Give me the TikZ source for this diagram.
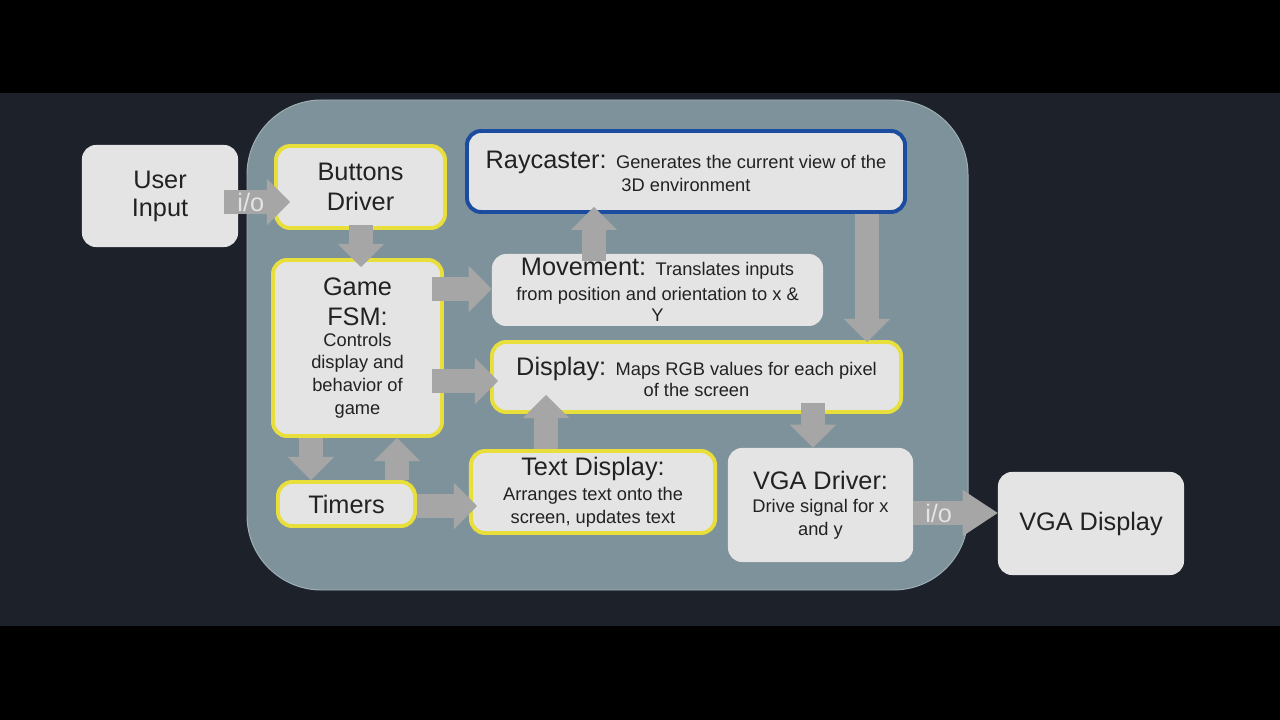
\documentclass[tikz,border=0pt]{standalone}
\usepackage{fontspec}
\setmainfont{Liberation Sans}
\usetikzlibrary{arrows.meta}
\definecolor{bandc}{RGB}{28,33,42}
\definecolor{fpgac}{RGB}{125,146,155}
\definecolor{fpgaedge}{RGB}{160,175,182}
\definecolor{boxc}{RGB}{228,228,228}
\definecolor{yelc}{RGB}{232,222,60}
\definecolor{bluc}{RGB}{28,76,160}
\definecolor{arrc}{RGB}{166,166,166}
\definecolor{txtc}{RGB}{34,34,34}
\newcommand{\ttl}{\fontsize{18}{21.5}\selectfont}
\newcommand{\dsc}{\fontsize{13}{16}\selectfont}
\tikzset{
	box/.style={fill=boxc, rounded corners=10pt, align=center, text=txtc, inner sep=0pt, font=\ttl},
	yelbox/.style={box, draw=yelc, line width=2.8pt},
	blubox/.style={box, draw=bluc, line width=2.8pt},
	blk/.style={draw=arrc, line width=17.5pt, -{Triangle[length=16.4pt, width=33pt, line width=0pt]}},
	iolbl/.style={text=boxc, font=\ttl, inner sep=0pt}
}
\begin{document}
\begin{tikzpicture}[x=0.025cm, y=-0.025cm]
			\useasboundingbox (0,0) rectangle (1280,720);
			\fill[black] (0,0) rectangle (1280,720);
			\fill[bandc] (0,93) rectangle (1280,626);
			\draw[fpgaedge, fill=fpgac, line width=0.7pt, rounded corners=53pt] (247,100) rectangle (968,590);

			\node[box, minimum width=111pt, minimum height=72.6pt] (user) at (160,196) {User\\[-1.5pt]Input};
			\node[yelbox, minimum width=120.2pt, minimum height=58.3pt] (btn) at (360.5,187) {Buttons\\Driver};
			\node[blubox, minimum width=311.5pt, minimum height=57.6pt] (ray) at (686,171.5)
				{Raycaster: \dsc Generates the current view of the\\[-5pt]\dsc 3D environment};
			\node[box, minimum width=235.4pt, minimum height=51.2pt] (mov) at (657.5,290)
				{Movement: \dsc Translates inputs\\[-4pt]\dsc from position and orientation to x \&\\[-6pt]\dsc Y};
			\node[yelbox, minimum width=120.2pt, minimum height=125.2pt] (fsm) at (357.5,348)
				{Game\\FSM:\\[-7pt]\dsc Controls\\[-5.3pt]\dsc display and\\[-5.3pt]\dsc behavior of\\[-5.3pt]\dsc game};
			\node[yelbox, minimum width=290.9pt, minimum height=49.8pt] (disp) at (696.5,377)
				{Display: \dsc Maps RGB values for each pixel\\[-6.4pt]\dsc of the screen};
			\node[yelbox, minimum width=97.4pt, minimum height=31.3pt] (tmr) at (346.5,504) {Timers};
			\node[yelbox, minimum width=173.6pt, minimum height=58.3pt] (txt) at (593,492)
				{Text Display:\\[-3.5pt]\dsc Arranges text onto the\\[-5.5pt]\dsc screen, updates text};
			\node[box, minimum width=131.6pt, minimum height=81.1pt] (vga) at (820.5,505)
				{VGA Driver:\\[-5pt]\dsc Drive signal for x\\[-5.5pt]\dsc and y};
			\node[box, minimum width=132.3pt, minimum height=73.3pt] (vgad) at (1091,523.5) {VGA Display};

			\draw[blk, shorten <=-10pt, shorten >=-11.4pt] (user.east |- 0,202) -- node[iolbl, pos=0.35] (io1) {i/o} (btn.west |- 0,202);
			\draw[blk, shorten <=-3.6pt, shorten >=-6.4pt] (btn.south -| 361,0) -- (fsm.north -| 361,0);
			\draw[blk, shorten <=-8.5pt] (fsm.east |- 0,289) -- (mov.west |- 0,289);
			\draw[blk, shorten <=-8.5pt, shorten >=-5.7pt] (fsm.east |- 0,381) -- (disp.west |- 0,381);
			\draw[blk, shorten <=-5pt, shorten >=-5pt] (mov.north -| 594,0) -- (ray.south -| 594,0);
			\draw[blk, shorten >=-1.4pt] (ray.south -| 867,0) -- (disp.north -| 867,0);
			\draw[blk, shorten <=-7.8pt] (disp.south -| 813,0) -- (vga.north -| 813,0);
			\draw[blk] (fsm.south -| 311,0) -- (tmr.north -| 311,0);
			\draw[blk] (tmr.north -| 397,0) -- (fsm.south -| 397,0);
			\draw[blk, shorten >=-5.7pt] (tmr.east |- 0,506) -- (txt.west |- 0,506);
			\draw[blk, shorten >=-13.5pt] (txt.north -| 546,0) -- (disp.south -| 546,0);
			\draw[blk, -{Triangle[length=25pt, width=33pt, line width=0pt]}] (vga.east |- 0,513) -- node[iolbl, pos=0.3] (io2) {i/o} (vgad.west |- 0,513);
		\end{tikzpicture}
\end{document}
